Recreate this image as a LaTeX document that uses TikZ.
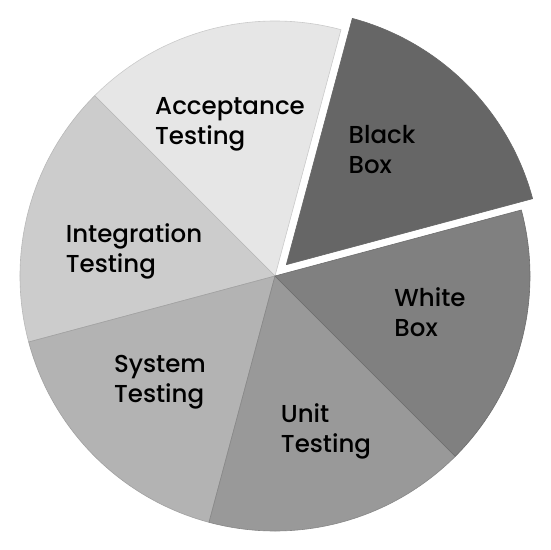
\documentclass[tikz,border=0pt]{standalone}
\usepackage{fontspec}
\setmainfont{Poppins}[UprightFont = * Medium]

\definecolor{bbox}{HTML}{666666}
\definecolor{wbox}{HTML}{808080}
\definecolor{unit}{HTML}{999999}
\definecolor{system}{HTML}{B3B3B3}
\definecolor{integ}{HTML}{CCCCCC}
\definecolor{accept}{HTML}{E6E6E6}

\tikzstyle{slice} = [line width = 0.6pt, line join = round]
\tikzstyle{lbl} = [align = left, text = black, font = \fontsize{24.5}{30}\selectfont]

\begin{document}
\begin{tikzpicture}
		\useasboundingbox (-275pt, -274pt) rectangle (275pt, 276pt);

		% slices, 60 degrees each
		\filldraw [slice, fill = accept, draw = accept!88!black] (0pt, 0pt) -- (75:255pt) arc [start angle = 75, end angle = 135, radius = 255pt] -- cycle;
		\filldraw [slice, fill = integ, draw = integ!90!black] (0pt, 0pt) -- (135:255pt) arc [start angle = 135, end angle = 195, radius = 255pt] -- cycle;
		\filldraw [slice, fill = system, draw = system!90!black] (0pt, 0pt) -- (195:255pt) arc [start angle = 195, end angle = 255, radius = 255pt] -- cycle;
		\filldraw [slice, fill = unit, draw = unit!88!black] (0pt, 0pt) -- (255:255pt) arc [start angle = 255, end angle = 315, radius = 255pt] -- cycle;
		\filldraw [slice, fill = wbox, draw = wbox!85!black] (0pt, 0pt) -- (315:255pt) arc [start angle = 315, end angle = 375, radius = 255pt] -- cycle;
		% pulled out slice
		\filldraw [slice, fill = bbox, draw = bbox, shift = {(45:16pt)}] (0pt, 0pt) -- (15:255pt) arc [start angle = 15, end angle = 75, radius = 255pt] -- cycle;

		\node [lbl] at (107pt, 126pt) (1) {Black\\Box};
		\node [lbl] at (155pt, -36pt) (2) {White\\Box};
		\node [lbl] at (51pt, -155pt) (3) {Unit\\Testing};
		\node [lbl] at (-115pt, -106pt) (4) {System\\Testing};
		\node [lbl] at (-141pt, 25pt) (5) {Integration\\Testing};
		\node [lbl] at (-45pt, 152pt) (6) {Acceptance\\Testing};
	\end{tikzpicture}
\end{document}
